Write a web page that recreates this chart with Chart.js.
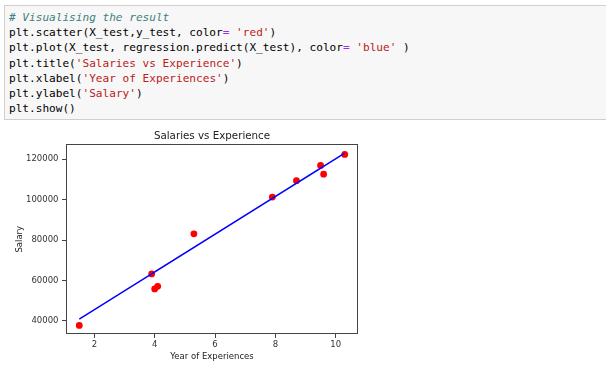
<!DOCTYPE html>
<html>
<head>
<meta charset="utf-8">
<script src="https://cdn.jsdelivr.net/npm/chart.js@4.4.1/dist/chart.umd.min.js"></script>
<style>
  html, body { margin: 0; padding: 0; background: #fff; width: 606px; height: 377px; overflow: hidden; }
  .cell {
    position: absolute; left: 4px; top: 5px; width: 610px; height: 113px;
    background: #f7f7f7; border: 1px solid #cfcfcf; box-sizing: content-box;
  }
  pre {
    margin: 0; padding: 4px 0 0 4px;
    font-family: "DejaVu Sans Mono", "Liberation Mono", monospace;
    font-size: 11.1px; line-height: 15.17px; color: #000;
  }
  .c { color: #408080; font-style: italic; }
  .s { color: #ba2121; }
  .o { color: #aa22ff; }
  #wrap { position: absolute; left: 0; top: 125px; width: 370px; height: 252px; }
</style>
</head>
<body>
<div class="cell"><pre><span class="c"># Visualising the result</span>
plt.scatter(X_test,y_test, color<span class="o">=</span> <span class="s">'red'</span>)
plt.plot(X_test, regression.predict(X_test), color<span class="o">=</span> <span class="s">'blue'</span> )
plt.title(<span class="s">'Salaries vs Experience'</span>)
plt.xlabel(<span class="s">'Year of Experiences'</span>)
plt.ylabel(<span class="s">'Salary'</span>)
plt.show()</pre></div>
<div id="wrap"><canvas id="chart" width="370" height="252"></canvas></div>
<script>
// Data (X_test order as plotted)
const xTest = [1.5, 10.3, 4.1, 3.9, 9.5, 8.7, 9.6, 4.0, 5.3, 7.9];
const yTest = [37731, 122391, 57081, 63218, 116969, 109431, 112635, 55794, 83088, 101302];
const yPred = [40835, 123079, 65135, 63265, 115603, 108126, 116537, 64200, 76350, 100649];
const xTicks = [2, 4, 6, 8, 10];
const yTicks = [40000, 60000, 80000, 100000, 120000];
const titleText = 'Salaries vs Experience';
const xLabel = 'Year of Experiences';
const yLabel = 'Salary';

const scatterPts = xTest.map((x, i) => ({ x: x, y: yTest[i] }));
const linePts = xTest.map((x, i) => ({ x: x, y: yPred[i] }));

const frame = {
  id: 'frame',
  afterDraw(chart) {
    const a = chart.chartArea, ctx = chart.ctx;
    ctx.save();
    ctx.strokeStyle = '#444';
    ctx.lineWidth = 1;
    const l = Math.round(a.left) + 0.5, t = Math.round(a.top) + 0.5;
    const r = Math.round(a.right) - 0.5, b = Math.round(a.bottom) - 0.5;
    ctx.strokeRect(l, t, r - l, b - t);
    ctx.restore();
  }
};

const tickFont = { family: 'DejaVu Sans', size: 8.5 };
new Chart(document.getElementById('chart'), {
  type: 'scatter',
  data: {
    datasets: [
      { type: 'line', data: linePts, borderColor: '#0000ff', borderWidth: 1.5, pointRadius: 0, fill: false, tension: 0 },
      { type: 'scatter', data: scatterPts, backgroundColor: '#ff0000', borderWidth: 0, pointRadius: 3.4, pointHoverRadius: 3.4 }
    ]
  },
  options: {
    responsive: false,
    animation: false,
    devicePixelRatio: 1,
    layout: { padding: { left: 0, top: 0, right: 12, bottom: 0 } },
    plugins: {
      legend: { display: false },
      tooltip: { enabled: false },
      title: {
        display: true, text: titleText, fullSize: false, color: '#222',
        font: { family: 'DejaVu Sans', size: 10.3, weight: 'normal', lineHeight: 1.2 },
        padding: { top: 4.8, bottom: 2.3 }
      }
    },
    scales: {
      x: {
        type: 'linear', min: 1.06, max: 10.74,
        afterBuildTicks: s => { s.ticks = xTicks.map(v => ({ value: v })); },
        afterFit: s => { s.height = 43; },
        ticks: { color: '#333', font: tickFont, padding: 1.2, maxRotation: 0, autoSkip: false },
        grid: { drawOnChartArea: false, drawTicks: true, tickLength: 4, color: '#444', tickWidth: 1 },
        border: { display: false },
        title: { display: true, text: xLabel, color: '#222', font: { family: 'DejaVu Sans', size: 8.5, lineHeight: 1.2 }, padding: { top: 0, bottom: 15.2 } }
      },
      y: {
        type: 'linear', min: 33464, max: 127347,
        afterBuildTicks: s => { s.ticks = yTicks.map(v => ({ value: v })); },
        afterFit: s => { s.width = 66; },
        ticks: { color: '#333', font: tickFont, padding: 3.5, autoSkip: false, callback: v => String(v) },
        grid: { drawOnChartArea: false, drawTicks: true, tickLength: 4, color: '#444', tickWidth: 1 },
        border: { display: false },
        title: { display: true, text: yLabel, color: '#222', font: { family: 'DejaVu Sans', size: 8.5, lineHeight: 1.2 }, padding: { top: 14.2, bottom: 0 } }
      }
    }
  },
  plugins: [frame]
});
</script>
</body>
</html>
